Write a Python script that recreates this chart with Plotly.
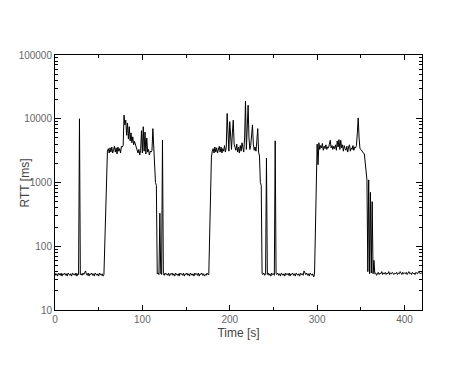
import plotly.graph_objects as go

# RTT samples, one per second starting at t = 0 s
rtt_ms = [
    38, 35, 37, 34, 38, 36, 35, 38, 34, 37,            # 0
    36, 38, 35, 37, 34, 38, 36, 35, 37, 34,            # 10
    38, 36, 37, 35, 38, 34, 37, 36, 10000, 36,         # 20
    37, 35, 38, 36, 39, 41, 36, 35, 38, 34,            # 30
    37, 36, 38, 35, 37, 34, 38, 36, 35, 37,            # 40
    34, 38, 36, 35, 37, 34, 36, 120, 420, 1400,        # 50
    3100, 3400, 2900, 3500, 3000, 3600, 2900, 3300, 3700, 3000,   # 60
    3500, 2800, 3600, 3100, 3400, 2900, 3700, 3600, 3800, 11400,  # 70
    8000, 9500, 5500, 8600, 4800, 7500, 4500, 6000, 4200, 5200,   # 80
    3900, 4400, 4000, 3600, 3100, 2900, 3300, 2700, 3200, 6500,   # 90
    2900, 7500, 3100, 6200, 2800, 5000, 3000, 3300, 2700, 3100,   # 100
    3000, 3200, 7000, 3000, 2500, 1000, 900, 37, 38, 36,          # 110
    330, 37, 36, 4600, 37, 35, 38, 36, 37, 35,                    # 120
    38, 34, 37, 36, 38, 35, 37, 34, 38, 36,            # 130
    35, 37, 34, 38, 36, 37, 35, 38, 34, 37,            # 140
    36, 38, 35, 37, 34, 38, 36, 35, 37, 34,            # 150
    38, 36, 37, 35, 38, 34, 37, 36, 38, 35,            # 160
    37, 34, 36, 35, 38, 36, 36, 150, 600, 2500,        # 170
    3100, 3400, 2900, 3600, 3000, 3500, 2900, 3300, 3700, 3000,   # 180
    3600, 2900, 3400, 3100, 3800, 3000, 3500, 12100, 5000, 3100,  # 190
    9000, 5000, 3300, 6000, 9500, 4000, 3500, 3200, 4000, 3000,   # 200
    3600, 2900, 3800, 3100, 4200, 3300, 3000, 5000, 19000, 3300,  # 210
    6000, 16300, 5000, 3300, 3800, 5000, 8000, 4000, 3200, 3600,  # 220
    3100, 4500, 7000, 3000, 2600, 1000, 900, 37, 36, 38,          # 230
    35, 37, 2400, 36, 38, 35, 37, 34, 38, 36,          # 240
    37, 35, 4500, 37, 36, 38, 35, 37, 34, 38,          # 250
    36, 35, 37, 34, 38, 36, 37, 35, 38, 34,            # 260
    37, 36, 38, 35, 37, 34, 38, 36, 35, 37,            # 270
    34, 38, 36, 37, 35, 41, 37, 36, 38, 35,            # 280
    37, 34, 38, 36, 35, 37, 33, 36, 300, 1500,         # 290
    4000, 1900, 4200, 3300, 3800, 3500, 4100, 3200, 3700, 3400,   # 300
    3900, 3300, 3600, 3500, 4000, 4600, 3500, 3800, 3300, 3700,   # 310
    3400, 3900, 3200, 4500, 3600, 4700, 3300, 4600, 3500, 3900,   # 320
    3100, 3800, 3400, 3200, 3700, 3000, 3600, 3900, 3100, 3500,   # 330
    3300, 3800, 3200, 3600, 3500, 3800, 6000, 10300, 5000, 3400,  # 340
    3300, 3200, 3000, 2900, 2800, 2200, 1500, 1100, 40, 1100,     # 350
    37, 700, 38, 500, 37, 60, 37, 38, 35, 37,          # 360
    39, 36, 38, 37, 40, 36, 38, 37, 39, 36,            # 370
    38, 37, 40, 36, 38, 37, 39, 37, 36, 38,            # 380
    37, 39, 36, 38, 37, 40, 38, 36, 39, 37,            # 390
    38, 37, 39, 36, 38, 40, 37, 38, 36, 39,            # 400
    37, 38, 36, 39, 38, 37, 40, 38, 37, 38,            # 410
    38,                                                # 420
]
time_s = list(range(len(rtt_ms)))

x_tick_vals = [0, 100, 200, 300, 400]
x_tick_text = ["0", "100", "200", "300", "400"]
y_tick_vals = [10, 100, 1000, 10000, 100000]
y_tick_text = ["10", "100", "1000", "10000", "100000"]

fig = go.Figure()
fig.add_trace(go.Scatter(
    x=time_s, y=rtt_ms, mode="lines",
    line=dict(color="black", width=1),
    showlegend=False,
))

tick_font = dict(family="Liberation Sans, Arial, sans-serif", size=10, color="#666666")
title_font = dict(family="Liberation Sans, Arial, sans-serif", size=12, color="#444444")

fig.update_layout(
    width=466, height=357,
    margin=dict(l=47, r=52, t=47, b=55, autoexpand=False),
    paper_bgcolor="white", plot_bgcolor="white",
    xaxis=dict(
        range=[0, 420], showgrid=False, zeroline=False, automargin=False,
        showline=True, linecolor="black", linewidth=1, mirror="ticks",
        ticks="inside", ticklen=5, tickcolor="black", tickwidth=1,
        tickvals=x_tick_vals, ticktext=x_tick_text, tickfont=tick_font,
        minor=dict(ticks="inside", ticklen=3, tickcolor="black", dtick=50, showgrid=False),
        title=dict(text="Time [s]", font=title_font, standoff=4),
    ),
    yaxis=dict(
        type="log", range=[1, 5], showgrid=False, zeroline=False, automargin=False,
        showline=True, linecolor="black", linewidth=1, mirror="ticks",
        ticks="inside", ticklen=6, tickcolor="black", tickwidth=1,
        tickvals=y_tick_vals, ticktext=y_tick_text, tickfont=tick_font,
        minor=dict(ticks="inside", ticklen=3, tickcolor="black", dtick="D1", showgrid=False),
    ),
    annotations=[dict(
        text="RTT [ms]", xref="paper", yref="paper", x=-0.082, y=0.5,
        xanchor="center", yanchor="middle", textangle=-90, showarrow=False,
        font=title_font,
    )],
)

fig.write_html("out.html")
